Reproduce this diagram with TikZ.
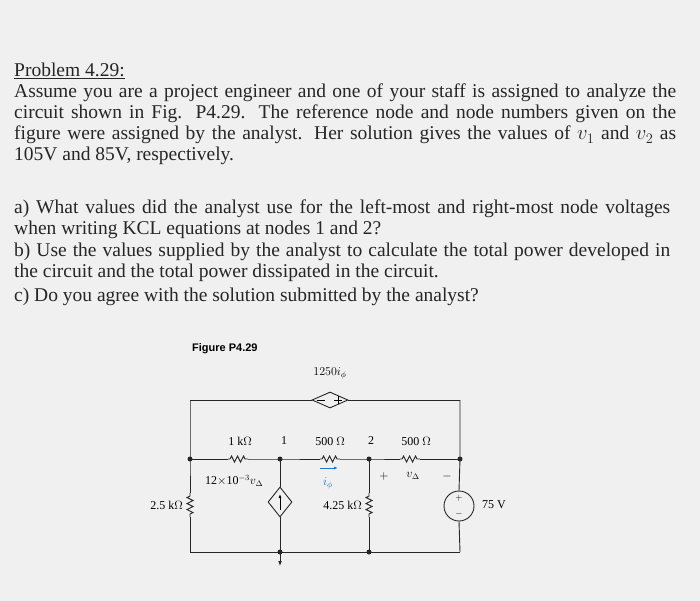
\documentclass[tikz,border=0pt]{standalone}
\usepackage{fontspec}
\setmainfont{Liberation Serif}
\newfontfamily\figsans{Liberation Sans}
\usetikzlibrary{shapes.geometric,arrows.meta}
\tikzset{
 txt/.style={anchor=base west,inner sep=0pt,font=\fontsize{19.5}{22}\selectfont,text=black!85},
 lab/.style={inner sep=0pt,font=\fontsize{12}{14}\selectfont},
 wire/.style={line width=0.9pt,black!85},
 dot/.style={circle,fill=black!85,inner sep=0pt,minimum size=5pt},
 rh/.pic={\draw[wire] (-10,0)--(-8,0)--(-6.5,-3)--(-3.5,3)--(-0.5,-3)--(2.5,3)--(5.5,-3)--(7,0)--(10,0);},
 rv/.pic={\draw[wire] (0,-12)--(0,-9)--(-3,-7.5)--(3,-4.5)--(-3,-1.5)--(3,1.5)--(-3,4.5)--(3,7.5)--(0,9)--(0,12);},
}
\newcommand{\fl}[2]{\makebox[#1][s]{#2}}
\begin{document}
\begin{tikzpicture}[x=1pt,y=-1pt]
\fill[gray!12] (0,0) rectangle (700,601);
\useasboundingbox (0,0) rectangle (700,601);
\node[txt] (t0) at (14,77) {\underline{Problem 4.29:}};
\node[txt] (t1) at (14,98) {\fl{662pt}{Assume you are a project engineer and one of your staff is assigned to analyze the}};
\node[txt] (t2) at (14,119) {\fl{662pt}{circuit shown in Fig. P4.29. The reference node and node numbers given on the}};
\node[txt] (t3) at (14,140) {\fl{662pt}{figure were assigned by the analyst. Her solution gives the values of $v_1$ and $v_2$ as}};
\node[txt] (t4) at (14,161) {105V and 85V, respectively.};
\node[txt] (t5) at (14,214) {\fl{656pt}{a) What values did the analyst use for the left-most and right-most node voltages}};
\node[txt] (t6) at (14,235) {when writing KCL equations at nodes 1 and 2?};
\node[txt] (t7) at (14,256) {\fl{656pt}{b) Use the values supplied by the analyst to calculate the total power developed in}};
\node[txt] (t8) at (14,277) {the circuit and the total power dissipated in the circuit.};
\node[txt] (t9) at (14,301) {c) Do you agree with the solution submitted by the analyst?};
\node[lab,font=\figsans\fontsize{11}{12}\selectfont\bfseries,anchor=west] (fig) at (192,349) {Figure P4.29};
\coordinate (TL) at (190,400); \coordinate (TR) at (460,400);
\coordinate (ML) at (190,459); \coordinate (N1) at (280,459);
\coordinate (N2) at (369,459); \coordinate (MR) at (460,459);
\coordinate (BL) at (190,552); \coordinate (B1) at (280,552);
\coordinate (B2) at (369,552); \coordinate (BR) at (460,552);
\node[diamond,draw,wire,minimum width=36pt,minimum height=16pt,inner sep=0pt] (dv) at (330,400) {};
\draw[wire] (TL)--(dv.west) (dv.east)--(TR);
\draw[line width=0.7pt] ([xshift=-13pt]dv.center)--([xshift=-5pt]dv.center);
\draw[line width=0.7pt] ([xshift=4pt]dv.center)--([xshift=12pt]dv.center) ([xshift=8pt,yshift=-4pt]dv.center)--([xshift=8pt,yshift=4pt]dv.center);
\node[lab] (l1250) at (330,373) {$1250i_\phi$};
\draw[wire] (TL)--(ML)--(190,493); \pic at (190,505) {rv}; \draw[wire] (190,517)--(BL);
\node[lab,anchor=east] (l25) at (183,505) {2.5 k$\Omega$};
\draw[wire] (ML)--(228,459); \pic at (238,459) {rh}; \draw[wire] (248,459)--(N1)--(320,459);
\pic at (330,459) {rh}; \draw[wire] (340,459)--(N2)--(400,459); \pic at (410,459) {rh}; \draw[wire] (420,459)--(MR);
\node[lab] (l1k) at (240,441) {1 k$\Omega$};
\node[lab] (ln1) at (284,441) {1};
\node[lab] (l500a) at (330,441) {500 $\Omega$};
\node[lab] (ln2) at (371,441) {2};
\node[lab] (l500b) at (416,441) {500 $\Omega$};
\draw[-{Latex[length=4pt]},cyan!60!blue,line width=0.8pt] (320,468)--(338,468);
\node[lab,text=cyan!50!blue] (lip) at (328,483) {$i_\phi$};
\node[lab] (lp) at (384,476) {$+$};
\node[lab] (lva) at (413,476) {$v_\Delta$};
\node[lab] (lm) at (447,476) {$-$};
\node[diamond,draw,wire,minimum width=24pt,minimum height=30pt,inner sep=0pt] (dc) at (280,502) {};
\draw[wire] (N1)--(dc.north) (dc.south)--(B1);
\draw[-{Latex[length=4pt]},line width=0.8pt] ([yshift=-8pt]dc.center)--([yshift=8pt]dc.center);
\node[lab,anchor=west] (l12) at (205,481) {12$\times$10$^{-3}v_\Delta$};
\draw[wire] (N2)--(369,493); \pic at (369,505) {rv}; \draw[wire] (369,517)--(B2);
\node[lab,anchor=east] (l425) at (362,505) {4.25 k$\Omega$};
\node[circle,draw,wire,minimum size=30pt,inner sep=0pt] (vs) at (459,506) {};
\draw[wire] (TR)--(MR)--(vs.north) (vs.south)--(BR);
\node[lab,font=\fontsize{9}{10}\selectfont] at (459,498) {$+$};
\node[lab,font=\fontsize{9}{10}\selectfont] at (459,514) {$-$};
\node[lab,anchor=west] (l75) at (482,505) {75 V};
\draw[wire] (BL)--(BR);
\draw[wire,-{Latex[length=5pt]}] (B1)--(280,566);
\foreach \p in {ML,N1,N2,MR,B1,B2} \node[dot] at (\p) {};
\end{tikzpicture}
\end{document}
